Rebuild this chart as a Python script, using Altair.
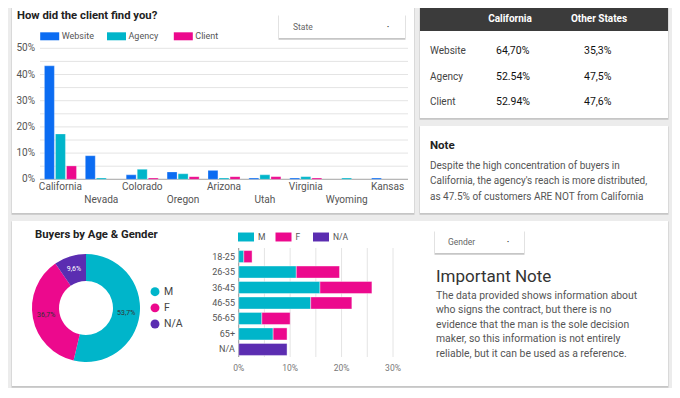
import altair as alt
import pandas as pd

# ---------------- data ----------------
states = ['California', 'Nevada', 'Colorado', 'Oregon', 'Arizona', 'Utah', 'Virginia', 'Wyoming', 'Kansas']
sources = ['Website', 'Agency', 'Client']
website = [43.3, 9.0, 1.7, 2.8, 3.4, 0.5, 0.5, 0.0, 0.5]
agency = [17.3, 0.5, 3.8, 2.1, 0.5, 1.7, 1.0, 0.5, 0.0]
client = [5.1, 0.0, 0.5, 1.0, 1.0, 1.0, 0.5, 0.0, 0.0]
bar_grid = [0, 5, 10, 15, 20, 25, 30, 35, 40, 45, 50]
bar_ticks = [0, 10, 20, 30, 40, 50]

table_cols = ['California', 'Other States']
table_rows = ['Website', 'Agency', 'Client']
table_cal = ['64,70%', '52.54%', '52.94%']
table_oth = ['35,3%', '47,5%', '47,6%']

genders = ['M', 'F', 'N/A']
gender_share = [53.7, 36.7, 9.6]
gender_labels = ['53,7%', '36,7%', '9,6%']

ages = ['18-25', '26-35', '36-45', '46-55', '56-65', '65+', 'N/A']
age_m = [1.0, 11.2, 15.8, 14.0, 4.5, 6.7, 0.0]
age_f = [1.6, 8.4, 10.1, 8.0, 5.5, 2.7, 0.0]
age_na = [0.0, 0.0, 0.0, 0.0, 0.0, 0.0, 9.4]
age_grid = [0, 5, 10, 15, 20, 25, 30]
age_ticks = [0, 10, 20, 30]

title_top = 'How did the client find you?'
title_bottom = 'Buyers by Age & Gender'
note_title = 'Note'
note_lines = ['Despite the high concentration of buyers in',
              "California, the agency's reach is more distributed,",
              'as 47.5% of customers ARE NOT from California']
imp_title = 'Important Note'
imp_lines = ['The data provided shows information about',
             'who signs the contract, but there is no',
             'evidence that the man is the sole decision',
             'maker, so this information is not entirely',
             'reliable, but it can be used as a reference.']

# ---------------- styling ----------------
FONT = 'Roboto'
BLUE, TEAL, PINK, PURPLE = '#0b6cf2', '#00b5ca', '#ec098d', '#5b2db1'
src_colors = [BLUE, TEAL, PINK]
gen_colors = [TEAL, PINK, PURPLE]

OX, OY = 8, 8
def X(v):
    return v - OX
def Y(v):
    return v - OY

one = pd.DataFrame({'k': [0]})

def rect(x1, y1, x2, y2, color, opacity=1.0):
    return alt.Chart(one).mark_rect(color=color, opacity=opacity).encode(
        x=alt.value(X(x1)), x2=alt.value(X(x2)), y=alt.value(Y(y1)), y2=alt.value(Y(y2)))

def panel(x1, y1, x2, y2):
    return [rect(x1 - 0.5, y1 + 0.5, x2 + 0.5, y2 + 1.8, '#c6c6c6'), rect(x1, y1, x2, y2, 'white')]

def label(text, x, y, size=11, color='#444', weight='normal', align='left', baseline='middle', lh=None):
    kw = dict(fontSize=size, color=color, fontWeight=weight, align=align, baseline=baseline, font=FONT)
    if lh:
        kw['lineHeight'] = lh
    return alt.Chart(one).mark_text(**kw).encode(
        x=alt.value(X(x)), y=alt.value(Y(y)), text=alt.value(text))

def pscale(domain, a, b):
    return alt.Scale(type='point', domain=domain, range=[a, b], padding=0)

layers = []
# panels
layers += panel(12, 5, 414, 213)
layers += panel(420, 5, 668, 118)
layers += panel(420, 126, 668, 213)
layers += panel(12, 221, 668, 386)

# ---------------- top-left bar chart ----------------
layers.append(label(title_top, 17, 16, size=11.3, color='#222', weight='bold'))
layers += panel(279, 15, 405, 38)
layers.append(label('State', 293, 27, size=8.5, color='#666'))
layers.append(label('•', 388, 27, size=6, color='#222', align='center'))

bar_df = pd.DataFrame({
    'state': states * 3,
    'source': ['Website'] * 9 + ['Agency'] * 9 + ['Client'] * 9,
    'value': website + agency + client,
})
bar_df = bar_df[bar_df['value'] > 0]
xs = alt.Scale(type='band', domain=states, range=[X(40), X(408)], paddingInner=0, paddingOuter=0)
ys = alt.Scale(domain=[0, 50], range=[Y(179.3), Y(48.3)], nice=False, zero=True)
src_scale = alt.Scale(domain=sources, range=src_colors)

grid = alt.Chart(pd.DataFrame({'v': bar_grid})).mark_rule(color='#e4e4e4', strokeWidth=1).encode(
    y=alt.Y('v:Q', scale=ys, axis=None), x=alt.value(X(40)), x2=alt.value(X(408)))
base0 = alt.Chart(pd.DataFrame({'v': [0]})).mark_rule(color='#aaaaaa', strokeWidth=1).encode(
    y=alt.Y('v:Q', scale=ys, axis=None), x=alt.value(X(40)), x2=alt.value(X(408)))
bars = alt.Chart(bar_df).mark_bar(stroke='#ffffff', strokeOpacity=0.35, strokeWidth=0.8).encode(
    x=alt.X('state:N', scale=xs, axis=None),
    xOffset=alt.XOffset('source:N', scale=alt.Scale(domain=sources, paddingInner=0.1, paddingOuter=0.4)),
    y=alt.Y('value:Q', scale=ys, axis=None),
    color=alt.Color('source:N', scale=src_scale, legend=None))
ylab = alt.Chart(pd.DataFrame({'v': bar_ticks})).transform_calculate(lbl="datum.v + '%'").mark_text(
    align='right', baseline='middle', fontSize=10, color='#555', font=FONT).encode(
    y=alt.Y('v:Q', scale=ys, axis=None), x=alt.value(X(35)), text='lbl:N')
xlab1 = alt.Chart(pd.DataFrame({'state': states[0::2]})).mark_text(
    align='center', baseline='middle', fontSize=10.1, color='#555', font=FONT).encode(
    x=alt.X('state:N', scale=xs, axis=None, bandPosition=0.5), y=alt.value(Y(187)), text='state:N')
xlab2 = alt.Chart(pd.DataFrame({'state': states[1::2]})).mark_text(
    align='center', baseline='middle', fontSize=10.1, color='#555', font=FONT).encode(
    x=alt.X('state:N', scale=xs, axis=None, bandPosition=0.5), y=alt.value(Y(200)), text='state:N')
layers.append(alt.layer(grid, base0, bars, ylab, xlab1, xlab2))

# legend for top chart
leg_x = pscale(sources, X(49.7), X(183.3))
leg_sym = alt.Chart(pd.DataFrame({'s': sources})).mark_point(
    shape='M-1,-0.42H1V0.42H-1Z', size=361, filled=True, opacity=1).encode(
    x=alt.X('s:N', scale=leg_x, axis=None), y=alt.value(Y(36.3)),
    color=alt.Color('s:N', scale=src_scale, legend=None))
leg_txt = alt.Chart(pd.DataFrame({'s': sources})).mark_text(
    align='left', baseline='middle', dx=12, fontSize=9, color='#555', font=FONT).encode(
    x=alt.X('s:N', scale=leg_x, axis=None), y=alt.value(Y(36.3)), text='s:N')
layers.append(alt.layer(leg_sym, leg_txt))

# ---------------- table ----------------
layers.append(rect(420, 5, 668, 31, '#3b3b3b'))
hdr_x = pscale(table_cols, X(510), X(599))
layers.append(alt.Chart(pd.DataFrame({'c': table_cols})).mark_text(
    align='center', baseline='middle', fontSize=10, fontWeight='bold', color='white', font=FONT).encode(
    x=alt.X('c:N', scale=hdr_x, axis=None), y=alt.value(Y(19)), text='c:N'))
tab_df = pd.DataFrame({'row': table_rows, 'cal': table_cal, 'oth': table_oth})
row_y = pscale(table_rows, Y(51), Y(102))
t1 = alt.Chart(tab_df).mark_text(align='left', baseline='middle', fontSize=10, color='#444', font=FONT).encode(
    y=alt.Y('row:N', scale=row_y, axis=None), x=alt.value(X(430)), text='row:N')
t2 = alt.Chart(tab_df).mark_text(align='left', baseline='middle', fontSize=10.5, color='#111', font=FONT).encode(
    y=alt.Y('row:N', scale=row_y, axis=None), x=alt.value(X(496)), text='cal:N')
t3 = alt.Chart(tab_df).mark_text(align='left', baseline='middle', fontSize=10.5, color='#111', font=FONT).encode(
    y=alt.Y('row:N', scale=row_y, axis=None), x=alt.value(X(584)), text='oth:N')
layers.append(alt.layer(t1, t2, t3))

# ---------------- note ----------------
layers.append(label(note_title, 430, 146, size=11.5, color='#222', weight='bold'))
layers.append(label(note_lines, 430, 168.5, size=10, color='#555', baseline='alphabetic', lh=15.5))

# ---------------- bottom: donut ----------------
layers.append(label(title_bottom, 35, 235, size=11.3, color='#222', weight='bold'))
gen_scale = alt.Scale(domain=genders, range=gen_colors)
don_df = pd.DataFrame({'g': genders, 'share': gender_share, 'lbl': gender_labels, 'idx': [0, 1, 2]})
arc = alt.Chart(don_df).mark_arc(innerRadius=27, outerRadius=54).encode(
    theta=alt.Theta('share:Q', stack=True),
    order=alt.Order('idx:Q'),
    color=alt.Color('g:N', scale=gen_scale, legend=None),
    x=alt.value(X(86)), y=alt.value(Y(308)))
arc_txt = alt.Chart(don_df).mark_text(radius=40.5, fontSize=7, font=FONT).encode(
    theta=alt.Theta('share:Q', stack=True),
    order=alt.Order('idx:Q'),
    text='lbl:N',
    color=alt.condition(alt.datum.g == 'N/A', alt.value('white'), alt.value('#333')),
    x=alt.value(X(86)), y=alt.value(Y(308)))
layers.append(alt.layer(arc, arc_txt))

don_y = pscale(genders, Y(291.7), Y(324))
dl_sym = alt.Chart(pd.DataFrame({'g': genders})).mark_point(shape='circle', size=80, filled=True, opacity=1).encode(
    y=alt.Y('g:N', scale=don_y, axis=None), x=alt.value(X(155)),
    color=alt.Color('g:N', scale=gen_scale, legend=None))
dl_txt = alt.Chart(pd.DataFrame({'g': genders})).mark_text(
    align='left', baseline='middle', dx=9, fontSize=10.5, color='#444', font=FONT).encode(
    y=alt.Y('g:N', scale=don_y, axis=None), x=alt.value(X(155)), text='g:N')
layers.append(alt.layer(dl_sym, dl_txt))

# ---------------- bottom: stacked bars ----------------
hb_df = pd.DataFrame({
    'age': ages * 3,
    'g': ['M'] * 7 + ['F'] * 7 + ['N/A'] * 7,
    'gi': [0] * 7 + [1] * 7 + [2] * 7,
    'pct': age_m + age_f + age_na,
})
hb_df = hb_df[hb_df['pct'] > 0]
ys2 = alt.Scale(type='band', domain=ages, range=[Y(249), Y(357)], paddingInner=0.22, paddingOuter=0.1)
xs2 = alt.Scale(domain=[0, 30], range=[X(238.7), X(393)], nice=False, zero=True)
hgrid = alt.Chart(pd.DataFrame({'v': age_grid})).mark_rule(color='#e4e4e4', strokeWidth=1).encode(
    x=alt.X('v:Q', scale=xs2, axis=None), y=alt.value(Y(248)), y2=alt.value(Y(357)))
hzero = alt.Chart(pd.DataFrame({'v': [0]})).mark_rule(color='#999999', strokeWidth=1).encode(
    x=alt.X('v:Q', scale=xs2, axis=None), y=alt.value(Y(248)), y2=alt.value(Y(357)))
hbars = alt.Chart(hb_df).mark_bar(stroke='#ffffff', strokeOpacity=0.5, strokeWidth=0.8).encode(
    y=alt.Y('age:N', scale=ys2, axis=None),
    x=alt.X('pct:Q', stack='zero', scale=xs2, axis=None),
    color=alt.Color('g:N', scale=gen_scale, legend=None),
    order=alt.Order('gi:Q'))
hylab = alt.Chart(pd.DataFrame({'age': ages})).mark_text(
    align='right', baseline='middle', fontSize=9, color='#555', font=FONT).encode(
    y=alt.Y('age:N', scale=ys2, axis=None, bandPosition=0.5), x=alt.value(X(235)), text='age:N')
hxlab = alt.Chart(pd.DataFrame({'v': age_ticks})).transform_calculate(lbl="datum.v + '%'").mark_text(
    align='center', baseline='middle', fontSize=8.5, color='#777', font=FONT).encode(
    x=alt.X('v:Q', scale=xs2, axis=None), y=alt.value(Y(368)), text='lbl:N')
layers.append(alt.layer(hgrid, hzero, hbars, hylab, hxlab))

hl_x = pscale(genders, X(246), X(321))
hl_sym = alt.Chart(pd.DataFrame({'g': genders})).mark_point(
    shape='M-1,-0.56H1V0.56H-1Z', size=256, filled=True, opacity=1).encode(
    x=alt.X('g:N', scale=hl_x, axis=None), y=alt.value(Y(237)),
    color=alt.Color('g:N', scale=gen_scale, legend=None))
hl_txt = alt.Chart(pd.DataFrame({'g': genders})).mark_text(
    align='left', baseline='middle', dx=12, fontSize=8.5, color='#555', font=FONT).encode(
    x=alt.X('g:N', scale=hl_x, axis=None), y=alt.value(Y(237)), text='g:N')
layers.append(alt.layer(hl_sym, hl_txt))

# ---------------- bottom right: note ----------------
layers += panel(435, 231, 524, 253)
layers.append(label('Gender', 448, 242, size=8.5, color='#666'))
layers.append(label('•', 508, 242, size=6, color='#222', align='center'))
layers.append(label(imp_title, 436, 277, size=17, color='#333'))
layers.append(label(imp_lines, 436, 299, size=10.4, color='#555', baseline='alphabetic', lh=14.4))

chart = alt.layer(*layers).resolve_scale(
    x='independent', y='independent', color='independent', theta='independent'
).properties(
    width=664, height=380, padding=0,
    autosize=alt.AutoSizeParams(type='none'),
    background='#ececec'
).configure_view(stroke=None)

chart.save('out.html', embed_options={'renderer': 'svg', 'actions': False})
